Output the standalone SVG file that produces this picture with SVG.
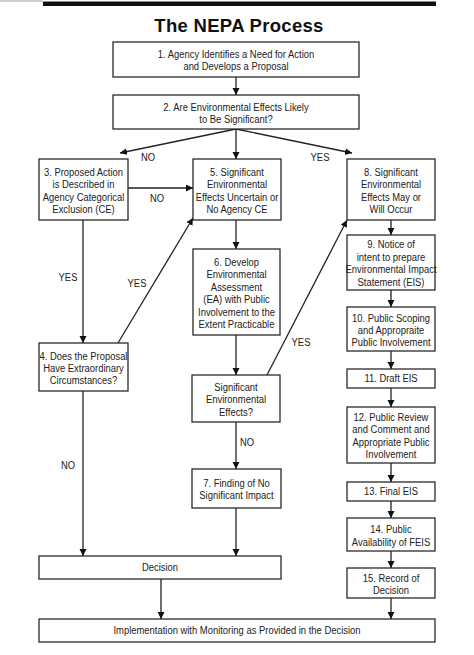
<svg xmlns="http://www.w3.org/2000/svg" width="474" height="655" viewBox="0 0 474 655">
<style>
.box{fill:#fff;stroke:#2a2a2a;stroke-width:1.3}
.t{font-family:"Liberation Sans",Arial,Helvetica,sans-serif;font-size:11.5px;fill:#222;text-anchor:middle}
.c{stroke:#222;stroke-width:1.3;fill:none;marker-end:url(#ah)}
.title{font-family:"Liberation Sans",Arial,Helvetica,sans-serif;font-weight:bold;font-size:18.5px;letter-spacing:0.3px;fill:#111;text-anchor:middle}
</style>
<defs>
<marker id="ah" markerUnits="userSpaceOnUse" markerWidth="8" markerHeight="8" refX="7" refY="3.5" orient="auto">
<path d="M0,0 L7,3.5 L0,7 z" fill="#111"/>
</marker>
</defs>
<rect width="474" height="655" fill="#fff"/>
<rect x="0" y="0" width="43" height="2" fill="#cfcfcf"/>
<rect x="43" y="1.5" width="393" height="4.5" fill="#111"/>
<text class="title" x="239" y="32">The NEPA Process</text>

<g id="connectors">
<path class="c" d="M236,77 L236,95"/>
<path class="c" d="M236,129 L120,153"/>
<path class="c" d="M236,129 L236,159"/>
<path class="c" d="M236,129 L352,153"/>
<path class="c" d="M128,188 L193,188"/>
<path class="c" d="M83,220 L83,343"/>
<path class="c" d="M118,343 L193,218"/>
<path class="c" d="M236,220 L236,249"/>
<path class="c" d="M236,335 L236,375"/>
<path class="c" d="M267,375 L347,220"/>
<path class="c" d="M236,422 L236,469"/>
<path class="c" d="M236,508 L236,556"/>
<path class="c" d="M83,391 L83,556"/>
<path class="c" d="M391,220 L391,235"/>
<path class="c" d="M391,290 L391,307"/>
<path class="c" d="M391,351 L391,369"/>
<path class="c" d="M391,388 L391,407"/>
<path class="c" d="M391,463 L391,482"/>
<path class="c" d="M391,501 L391,518"/>
<path class="c" d="M391,551 L391,568"/>
<path class="c" d="M391,598 L391,619"/>
<path class="c" d="M161,579 L161,619"/>
<g transform="translate(148 0) scale(0.82 1)"><text class="t" x="0" y="161">NO</text></g>
<g transform="translate(157 0) scale(0.82 1)"><text class="t" x="0" y="202">NO</text></g>
<g transform="translate(320 0) scale(0.82 1)"><text class="t" x="0" y="161">YES</text></g>
<g transform="translate(68 0) scale(0.82 1)"><text class="t" x="0" y="281">YES</text></g>
<g transform="translate(137 0) scale(0.82 1)"><text class="t" x="0" y="287">YES</text></g>
<g transform="translate(301 0) scale(0.82 1)"><text class="t" x="0" y="346">YES</text></g>
<g transform="translate(247 0) scale(0.82 1)"><text class="t" x="0" y="446">NO</text></g>
<g transform="translate(68 0) scale(0.82 1)"><text class="t" x="0" y="469">NO</text></g>
</g>

<g id="n1"><rect class="box" x="113" y="42" width="246" height="35"/>
<g transform="translate(236 0) scale(0.82 1)">
<text class="t" x="0" y="58">1. Agency Identifies a Need for Action</text>
<text class="t" x="0" y="70.5">and Develops a Proposal</text></g></g>

<g id="n2"><rect class="box" x="113" y="95" width="246" height="34"/>
<g transform="translate(236 0) scale(0.82 1)">
<text class="t" x="0" y="111">2. Are Environmental Effects Likely</text>
<text class="t" x="0" y="123.5">to Be Significant?</text></g></g>

<g id="n3"><rect class="box" x="39" y="159" width="89" height="61"/>
<g transform="translate(83.5 0) scale(0.82 1)">
<text class="t" x="0" y="176">3. Proposed Action</text>
<text class="t" x="0" y="188.5">is Described in</text>
<text class="t" x="0" y="201">Agency Categorical</text>
<text class="t" x="0" y="213.5">Exclusion (CE)</text></g></g>

<g id="n5"><rect class="box" x="193" y="159" width="88" height="61"/>
<g transform="translate(237 0) scale(0.82 1)">
<text class="t" x="0" y="176">5. Significant</text>
<text class="t" x="0" y="188.5">Environmental</text>
<text class="t" x="0" y="201">Effects Uncertain or</text>
<text class="t" x="0" y="213.5">No Agency CE</text></g></g>

<g id="n8"><rect class="box" x="347" y="159" width="88" height="61"/>
<g transform="translate(391 0) scale(0.82 1)">
<text class="t" x="0" y="176">8. Significant</text>
<text class="t" x="0" y="188.5">Environmental</text>
<text class="t" x="0" y="201">Effects May or</text>
<text class="t" x="0" y="213.5">Will Occur</text></g></g>

<g id="n6"><rect class="box" x="193" y="249" width="87" height="86"/>
<g transform="translate(236.5 0) scale(0.82 1)">
<text class="t" x="0" y="266">6. Develop</text>
<text class="t" x="0" y="278.4">Environmental</text>
<text class="t" x="0" y="290.8">Assessment</text>
<text class="t" x="0" y="303.2">(EA) with Public</text>
<text class="t" x="0" y="315.6">Involvement to the</text>
<text class="t" x="0" y="328">Extent Practicable</text></g></g>

<g id="n4"><rect class="box" x="39" y="343" width="89" height="48"/>
<g transform="translate(83.5 0) scale(0.82 1)">
<text class="t" x="0" y="360">4. Does the Proposal</text>
<text class="t" x="0" y="372">Have Extraordinary</text>
<text class="t" x="0" y="384">Circumstances?</text></g></g>

<g id="nsig"><rect class="box" x="192" y="375" width="88" height="47"/>
<g transform="translate(236 0) scale(0.82 1)">
<text class="t" x="0" y="391">Significant</text>
<text class="t" x="0" y="403">Environmental</text>
<text class="t" x="0" y="416">Effects?</text></g></g>

<g id="n7"><rect class="box" x="192" y="469" width="89" height="39"/>
<g transform="translate(236.5 0) scale(0.82 1)">
<text class="t" x="0" y="487">7. Finding of No</text>
<text class="t" x="0" y="499">Significant Impact</text></g></g>

<g id="n9"><rect class="box" x="347" y="235" width="88" height="55"/>
<g transform="translate(391 0) scale(0.82 1)">
<text class="t" x="0" y="248">9. Notice of</text>
<text class="t" x="0" y="261">intent to prepare</text>
<text class="t" x="0" y="273">Environmental Impact</text>
<text class="t" x="0" y="286">Statement (EIS)</text></g></g>

<g id="n10"><rect class="box" x="347" y="307" width="88" height="44"/>
<g transform="translate(391 0) scale(0.82 1)">
<text class="t" x="0" y="322">10. Public Scoping</text>
<text class="t" x="0" y="334">and Appropraite</text>
<text class="t" x="0" y="346">Public Involvement</text></g></g>

<g id="n11"><rect class="box" x="347" y="369" width="88" height="19"/>
<g transform="translate(391 0) scale(0.82 1)">
<text class="t" x="0" y="382.5">11. Draft EIS</text></g></g>

<g id="n12"><rect class="box" x="347" y="407" width="88" height="56"/>
<g transform="translate(391 0) scale(0.82 1)">
<text class="t" x="0" y="421">12. Public Review</text>
<text class="t" x="0" y="433">and Comment and</text>
<text class="t" x="0" y="446">Appropriate Public</text>
<text class="t" x="0" y="458">Involvement</text></g></g>

<g id="n13"><rect class="box" x="347" y="482" width="88" height="19"/>
<g transform="translate(391 0) scale(0.82 1)">
<text class="t" x="0" y="495.5">13. Final EIS</text></g></g>

<g id="n14"><rect class="box" x="347" y="518" width="88" height="33"/>
<g transform="translate(391 0) scale(0.82 1)">
<text class="t" x="0" y="533">14. Public</text>
<text class="t" x="0" y="546">Availability of FEIS</text></g></g>

<g id="n15"><rect class="box" x="347" y="568" width="88" height="30"/>
<g transform="translate(391 0) scale(0.82 1)">
<text class="t" x="0" y="582">15. Record of</text>
<text class="t" x="0" y="594">Decision</text></g></g>

<g id="ndecision"><rect class="box" x="39" y="556" width="242" height="23"/>
<g transform="translate(160 0) scale(0.82 1)">
<text class="t" x="0" y="571.5">Decision</text></g></g>

<g id="nimpl"><rect class="box" x="39" y="619" width="396" height="23"/>
<g transform="translate(237 0) scale(0.82 1)">
<text class="t" x="0" y="634.5">Implementation with Monitoring as Provided in the Decision</text></g></g>
</svg>
